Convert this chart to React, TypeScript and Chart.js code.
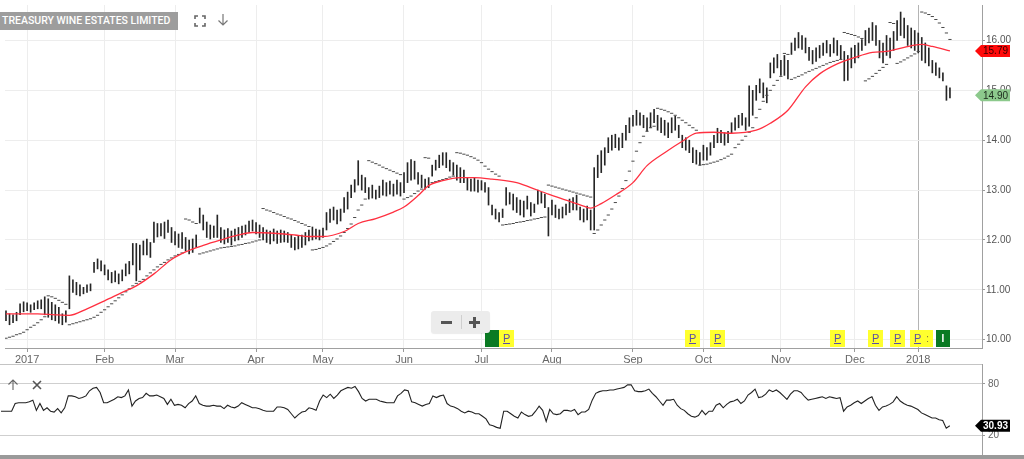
import React, { useEffect, useRef } from "react";
import { Chart, registerables } from "chart.js";

Chart.register(...registerables);

// ---- Data (trading-day index along x) ----
const highs = [
  10.58, 10.52, 10.50, 10.55, 10.72, 10.76, 10.74, 10.70, 10.74, 10.78,
  10.80, 10.86, 10.82, 10.75, 10.70, 10.65, 10.52, 10.58, 11.28, 11.20,
  11.15, 11.10, 11.05, 11.10, 11.12, 11.55, 11.62, 11.58, 11.50, 11.40,
  11.35, 11.38, 11.32, 11.40, 11.52, 11.57, 11.93, 11.93, 11.90, 11.98,
  12.02, 11.95, 12.36, 12.33, 12.33, 12.36, 12.40, 12.25, 12.17, 12.12,
  12.15, 12.05, 12.00, 12.02, 12.10, 12.64, 12.50, 12.36, 12.30, 12.28,
  12.50, 12.25, 12.20, 12.23, 12.18, 12.22, 12.25, 12.28, 12.30, 12.38,
  12.40, 12.35, 12.30, 12.25, 12.20, 12.18, 12.22, 12.18, 12.20, 12.18,
  12.15, 12.10, 12.05, 12.08, 12.10, 12.15, 12.20, 12.26, 12.22, 12.20,
  12.24, 12.55, 12.62, 12.66, 12.60, 12.62, 12.85, 12.96, 13.10, 13.21,
  13.59, 13.30, 13.25, 13.05, 13.10, 13.00, 13.08, 13.20, 13.15, 13.18,
  13.12, 13.20, 13.15, 13.35, 13.55, 13.61, 13.58, 13.35, 13.30, 13.22,
  13.25, 13.50, 13.60, 13.70, 13.75, 13.75, 13.60, 13.55, 13.50, 13.45,
  13.40, 13.25, 13.22, 13.25, 13.20, 13.19, 13.15, 13.05, 12.70, 12.62,
  12.55, 12.62, 13.05, 12.95, 12.92, 12.85, 12.80, 12.78, 12.88, 12.75,
  12.72, 13.00, 12.96, 12.92, 12.65, 12.80, 12.70, 12.62, 12.66, 12.72,
  12.82, 12.85, 12.90, 12.66, 12.62, 12.68, 12.60, 13.45, 13.70, 13.79,
  13.85, 14.05, 14.10, 14.12, 14.05, 14.14, 14.30, 14.45, 14.50, 14.60,
  14.55, 14.50, 14.45, 14.55, 14.62, 14.50, 14.45, 14.40, 14.35, 14.45,
  14.48, 14.30, 14.10, 14.05, 14.00, 13.85, 13.80, 13.75, 13.90, 13.85,
  13.95, 14.10, 14.24, 14.20, 14.15, 14.18, 14.35, 14.45, 14.50, 14.54,
  14.45, 15.09, 15.00, 15.10, 15.23, 15.15, 15.05, 15.55, 15.65, 15.72,
  15.60, 15.70, 15.60, 15.95, 16.05, 16.16, 16.10, 16.05, 15.86, 15.80,
  15.85, 15.90, 15.95, 16.00, 15.92, 16.05, 16.00, 15.90, 15.78, 15.70,
  15.85, 15.90, 15.95, 16.02, 16.20, 16.25, 16.36, 16.30, 16.00, 15.95,
  16.10, 16.05, 16.18, 16.40, 16.57, 16.45, 16.30, 16.25, 16.20, 16.15,
  16.06, 15.95, 15.85, 15.60, 15.55, 15.45, 15.35, 15.09, 15.05,
];

const lows = [
  10.38, 10.30, 10.34, 10.38, 10.50, 10.56, 10.58, 10.55, 10.60, 10.62,
  10.62, 10.50, 10.45, 10.40, 10.38, 10.33, 10.30, 10.35, 10.62, 10.95,
  10.90, 10.88, 10.92, 10.95, 10.98, 11.35, 11.42, 11.38, 11.30, 11.20,
  11.14, 11.16, 11.12, 11.18, 11.28, 11.32, 11.50, 11.18, 11.40, 11.70,
  11.70, 11.65, 11.95, 12.06, 12.08, 12.03, 12.15, 11.95, 11.90, 11.85,
  11.83, 11.78, 11.72, 11.75, 11.85, 12.34, 12.20, 12.05, 12.02, 12.05,
  12.05, 11.95, 11.92, 11.95, 11.90, 11.98, 12.00, 12.05, 12.10, 12.15,
  12.18, 12.12, 12.05, 12.00, 11.95, 11.92, 11.98, 11.93, 11.95, 11.96,
  11.95, 11.85, 11.80, 11.82, 11.85, 11.90, 11.98, 12.00, 12.02, 12.00,
  12.05, 12.20, 12.35, 12.40, 12.32, 12.38, 12.55, 12.62, 12.85, 12.96,
  13.10, 13.00, 12.95, 12.82, 12.84, 12.82, 12.85, 12.90, 12.88, 12.92,
  12.88, 12.92, 12.88, 12.95, 13.15, 13.20, 13.22, 13.12, 13.05, 13.02,
  13.05, 13.28, 13.40, 13.45, 13.50, 13.45, 13.38, 13.30, 13.20, 13.15,
  13.15, 13.00, 12.98, 12.98, 12.96, 13.00, 12.96, 12.70, 12.50, 12.42,
  12.36, 12.45, 12.70, 12.72, 12.60, 12.55, 12.50, 12.46, 12.62, 12.48,
  12.55, 12.72, 12.74, 12.65, 12.08, 12.50, 12.45, 12.42, 12.44, 12.50,
  12.55, 12.60, 12.60, 12.40, 12.36, 12.40, 12.20, 12.20, 13.25, 13.35,
  13.50, 13.75, 13.80, 13.85, 13.80, 13.85, 14.00, 14.15, 14.28, 14.30,
  14.30, 14.25, 14.18, 14.25, 14.35, 14.20, 14.15, 14.10, 14.05, 14.15,
  14.20, 14.05, 13.85, 13.80, 13.75, 13.55, 13.52, 13.50, 13.60, 13.60,
  13.70, 13.85, 13.95, 13.95, 13.90, 13.95, 14.15, 14.20, 14.25, 14.30,
  14.20, 14.28, 14.50, 14.80, 14.95, 14.85, 14.75, 15.25, 15.35, 15.45,
  15.30, 15.30, 15.23, 15.72, 15.80, 15.85, 15.82, 15.75, 15.60, 15.53,
  15.58, 15.65, 15.70, 15.75, 15.68, 15.75, 15.70, 15.62, 15.19, 15.20,
  15.45, 15.55, 15.65, 15.80, 15.90, 15.95, 16.00, 15.90, 15.65, 15.55,
  15.70, 15.65, 15.80, 16.00, 16.10, 16.05, 15.90, 15.85, 15.80, 15.75,
  15.60, 15.55, 15.49, 15.35, 15.30, 15.25, 15.19, 14.80, 14.85,
];

const sarValues = [
  10.03, 10.05, 10.07, 10.10, 10.12, 10.15, 10.20, 10.25, 10.29, 10.34,
  10.40, 10.46, 10.88, 10.86, 10.83, 10.79, 10.75, 10.71, 10.30, 10.32,
  10.34, 10.36, 10.38, 10.40, 10.42, 10.45, 10.49, 10.55, 10.60, 10.66,
  10.72, 10.78, 10.84, 10.90, 10.96, 11.02, 11.08, 11.13, 11.17, 11.21,
  11.28, 11.34, 11.40, 11.46, 11.51, 11.55, 11.60, 11.64, 11.68, 11.71,
  11.74, 12.42, 12.40, 12.36, 12.33, 11.72, 11.74, 11.76, 11.78, 11.80,
  11.82, 11.84, 11.85, 11.86, 11.87, 11.88, 11.90, 11.91, 11.93, 11.94,
  11.96, 11.98, 12.00, 12.63, 12.60, 12.58, 12.55, 12.52, 12.50, 12.47,
  12.44, 12.42, 12.39, 12.36, 12.33, 12.30, 12.27, 11.80, 11.81, 11.83,
  11.85, 11.88, 11.92, 11.97, 12.02, 12.08, 12.15, 12.23, 12.32, 12.45,
  12.60, 12.70, 12.82, 13.59, 13.56, 13.53, 13.50, 13.46, 13.43, 13.40,
  13.37, 13.34, 13.31, 12.82, 12.85, 12.88, 12.93, 12.98, 13.02, 13.65,
  13.64, 13.15, 13.17, 13.19, 13.21, 13.23, 13.26, 13.28, 13.75, 13.74,
  13.72, 13.70, 13.67, 13.64, 13.60, 13.55, 13.48, 13.42, 13.37, 13.32,
  13.28, 12.30, 12.31, 12.32, 12.33, 12.35, 12.36, 12.37, 12.39, 12.40,
  12.42, 12.43, 12.45, 12.46, 13.10, 13.08, 13.06, 13.04, 13.02, 13.00,
  12.98, 12.96, 12.94, 12.92, 12.90, 12.88, 12.86, 12.13, 12.20, 12.30,
  12.40, 12.50, 12.62, 12.75, 12.88, 13.03, 13.19, 13.38, 13.58, 13.78,
  13.95, 14.08, 14.18, 14.25, 14.28, 14.64, 14.62, 14.60, 14.57, 14.54,
  14.50, 14.45, 14.40, 14.35, 14.30, 14.25, 14.20, 13.50, 13.51, 13.52,
  13.54, 13.56, 13.58, 13.61, 13.64, 13.68, 13.72, 13.85, 13.92, 14.00,
  14.08, 14.16, 14.25, 14.45, 14.62, 14.78, 14.90, 15.00, 15.10, 15.20,
  15.28, 15.74, 15.72, 15.22, 15.25, 15.28, 15.31, 15.35, 15.38, 15.41,
  15.44, 15.47, 15.50, 15.53, 15.56, 15.58, 15.60, 15.62, 16.16, 16.14,
  16.12, 16.10, 16.07, 16.04, 15.19, 15.23, 15.28, 15.34, 15.40, 15.46,
  15.52, 16.36, 16.34, 15.54, 15.57, 15.61, 15.65, 15.69, 15.73, 15.78,
  16.57, 16.55, 16.52, 16.48, 16.42, 16.35, 16.26, 16.15, 16.02,
];

const maDays = [
  0, 9, 14, 18, 23, 28, 33, 37, 42, 47, 51, 56, 61, 66, 70, 77, 82, 86, 90,
  96, 100, 105, 110, 113, 117, 120, 124, 129, 133, 138, 145, 149, 154, 159,
  164, 166, 169, 173, 178, 182, 187, 192, 196, 201, 206, 213, 217, 222, 227,
  231, 236, 241, 246, 250, 255, 260, 263, 268,
];
const maValues = [
  10.52, 10.52, 10.50, 10.49, 10.62, 10.78, 10.95, 11.08, 11.32, 11.61, 11.76,
  11.89, 12.00, 12.10, 12.15, 12.13, 12.10, 12.07, 12.07, 12.17, 12.33, 12.43,
  12.56, 12.66, 12.89, 13.09, 13.19, 13.25, 13.25, 13.22, 13.15, 13.05, 12.92,
  12.80, 12.68, 12.64, 12.73, 12.90, 13.15, 13.49, 13.75, 13.98, 14.14, 14.16,
  14.14, 14.20, 14.34, 14.60, 15.07, 15.33, 15.53, 15.66, 15.76, 15.78, 15.86,
  15.92, 15.88, 15.79,
];

const rsiValues = [
  48, 48, 48, 48, 57, 58, 58, 58, 59, 61,
  49, 57, 49, 52, 48, 47, 51, 46, 52, 66,
  66, 65, 63, 64, 66, 72, 75, 76, 70, 58,
  58, 60, 62, 65, 64, 66, 73, 54, 60, 63,
  64, 69, 66, 66, 67, 65, 63, 56, 62, 55,
  56, 55, 52, 57, 60, 66, 57, 55, 54, 54,
  55, 54, 54, 51, 55, 53, 52, 54, 58, 56,
  54, 52, 52, 51, 49, 48, 48, 48, 53, 53,
  52, 50, 45, 40, 44, 47, 48, 52, 51, 49,
  60, 67, 64, 68, 63, 67, 72, 74, 76, 75,
  77, 71, 63, 60, 62, 62, 62, 60, 59, 58,
  58, 58, 66, 69, 73, 72, 59, 58, 56, 54,
  56, 57, 66, 64, 66, 67, 57, 54, 53, 51,
  48, 46, 48, 47, 45, 45, 42, 39, 32, 31,
  29, 28, 48, 48, 45, 42, 40, 47, 44, 42,
  43, 48, 54, 49, 36, 50, 45, 44, 45, 49,
  49, 48, 50, 44, 47, 47, 50, 61, 69, 71,
  72, 72, 73, 73, 74, 75, 76, 79, 79, 72,
  71, 71, 72, 74, 69, 65, 60, 55, 61, 61,
  62, 55, 51, 49, 45, 42, 41, 43, 49, 44,
  48, 48, 55, 57, 52, 56, 59, 60, 62, 57,
  60, 67, 70, 74, 64, 65, 68, 73, 71, 73,
  70, 66, 62, 68, 72, 72, 70, 65, 61, 62,
  63, 64, 65, 63, 65, 64, 63, 64, 48, 53,
  55, 58, 60, 57, 60, 63, 65, 55, 49, 53,
  54, 56, 59, 65, 60, 57, 55, 54, 52, 50,
  46, 44, 42, 40, 40, 38, 37, 28, 30.93,
];

const monthDays = [6, 28, 48, 71, 90, 113, 135, 155, 178, 198, 220, 241, 259];
const monthLabels = ["2017", "Feb", "Mar", "Apr", "May", "Jun", "Jul", "Aug", "Sep", "Oct", "Nov", "Dec", "2018"];
const yearLineDay = 259;
const priceTicks = [10, 11, 12, 13, 14, 15, 16];
const rsiTicks = [20, 80];
const eventDays = [138, 142, 195, 202, 236, 247, 253, 260, 266];
const eventKinds = ["green", "P", "P", "P", "P", "P", "P", "P:", "I"];
const lastClose = 14.9;
const lastMA = 15.79;
const lastRSI = 30.93;

const X_MIN = -0.28;
const X_MAX = 277.1;
const FONT = "'Liberation Sans', Arial, sans-serif";

function drawTag(ctx: CanvasRenderingContext2D, right: number, y: number, fill: string, color: string, text: string, bold: boolean) {
  ctx.save();
  ctx.beginPath();
  ctx.moveTo(right - 7, y);
  ctx.lineTo(right - 1, y - 6);
  ctx.lineTo(right + 28, y - 6);
  ctx.lineTo(right + 28, y + 6);
  ctx.lineTo(right - 1, y + 6);
  ctx.closePath();
  ctx.fillStyle = fill;
  ctx.fill();
  ctx.fillStyle = color;
  ctx.font = (bold ? "bold " : "") + "10px " + FONT;
  ctx.textAlign = "center";
  ctx.textBaseline = "middle";
  ctx.fillText(text, right + 13.5, y + 0.5);
  ctx.restore();
}

const overlayPlugin = {
  id: "priceOverlay",
  afterDraw(chart: any) {
    const { ctx, chartArea, scales } = chart;
    const xs = scales.x;
    const ys = scales.y;
    const bottom = chartArea.bottom - 1;
    const top = bottom - 17;
    eventDays.forEach((d, k) => {
      const kind = eventKinds[k];
      const cx = xs.getPixelForValue(d);
      const w = kind === "P:" ? 23 : kind === "green" || kind === "I" ? 14 : 15;
      const left = Math.round(cx - w / 2);
      ctx.save();
      if (kind === "green" || kind === "I") {
        ctx.fillStyle = "#0a7a23";
        ctx.fillRect(left, top, w, 17);
        if (kind === "I") {
          ctx.fillStyle = "#ffffff";
          ctx.font = "bold 10px " + FONT;
          ctx.textAlign = "center";
          ctx.textBaseline = "middle";
          ctx.fillText("I", left + w / 2, top + 9);
        }
      } else {
        ctx.fillStyle = "#ffff2e";
        ctx.fillRect(left, top, w, 17);
        ctx.fillStyle = "#5d4ea6";
        ctx.font = "11px " + FONT;
        ctx.textAlign = "left";
        ctx.textBaseline = "middle";
        const px = left + 4;
        ctx.fillText("P", px, top + 8.5);
        ctx.fillRect(px, top + 13, 7, 1);
        if (kind === "P:") {
          ctx.fillStyle = "#8a7a3a";
          ctx.fillText(":", px + 12, top + 9);
        }
      }
      ctx.restore();
    });
    drawTag(ctx, chartArea.right, ys.getPixelForValue(lastMA), "#ff0a0a", "#3a0000", lastMA.toFixed(2), false);
    drawTag(ctx, chartArea.right, ys.getPixelForValue(lastClose), "#8cc98c", "#1c2a1c", lastClose.toFixed(2), false);
  },
};

const rsiTagPlugin = {
  id: "rsiTag",
  afterDraw(chart: any) {
    const { ctx, chartArea, scales } = chart;
    drawTag(ctx, chartArea.right, scales.y.getPixelForValue(lastRSI), "#000000", "#ffffff", lastRSI.toFixed(2), true);
  },
};

const noPad = (s: any) => {
  s.paddingTop = 0;
  s.paddingBottom = 0;
  s.paddingLeft = 0;
  s.paddingRight = 0;
};

export default function App() {
  const mainRef = useRef<HTMLCanvasElement>(null);
  const rsiRef = useRef<HTMLCanvasElement>(null);

  useEffect(() => {
    document.body.style.margin = "0";
    Chart.defaults.font.family = FONT;
    const barData = highs.map((h, i) => ({ x: i, y: [lows[i], h] }));
    const sarData = sarValues.map((v, i) => ({ x: i, y: v }));
    const maData = maDays.map((d, i) => ({ x: d, y: maValues[i] }));
    const rsiData = rsiValues.map((v, i) => ({ x: i, y: v }));

    const main = new Chart(mainRef.current as HTMLCanvasElement, {
      type: "bar",
      data: {
        datasets: [
          {
            type: "bar",
            data: barData as any,
            backgroundColor: "#262626",
            borderWidth: 0,
            barThickness: 1,
            order: 3,
          } as any,
          {
            type: "line",
            data: sarData as any,
            showLine: false,
            pointStyle: "line",
            pointRadius: 1.6,
            pointBorderWidth: 1,
            pointBorderColor: "#4a4a4a",
            pointBackgroundColor: "#4a4a4a",
            order: 2,
          } as any,
          {
            type: "line",
            data: maData as any,
            borderColor: "#ff3040",
            borderWidth: 1.3,
            pointRadius: 0,
            cubicInterpolationMode: "monotone",
            order: 1,
          } as any,
        ],
      },
      options: {
        responsive: false,
        animation: false,
        events: [],
        layout: { padding: 0 },
        plugins: { legend: { display: false }, tooltip: { enabled: false } },
        scales: {
          x: {
            type: "linear",
            min: X_MIN,
            max: X_MAX,
            offset: false,
            afterBuildTicks: (s: any) => {
              s.ticks = monthDays.map((v) => ({ value: v }));
            },
            afterFit: (s: any) => {
              s.height = 16;
              noPad(s);
            },
            ticks: {
              autoSkip: false,
              maxRotation: 0,
              padding: 1,
              color: "#666666",
              font: { size: 11 },
              callback: (_v: any, idx: number) => monthLabels[idx],
            },
            grid: {
              offset: false,
              color: (c: any) => (c.tick && c.tick.value === yearLineDay ? "#b4b4b4" : "#ededed"),
              tickLength: 4,
              tickColor: "#999999",
            },
            border: { color: "#a0a0a0" },
          } as any,
          y: {
            type: "linear",
            position: "right",
            min: 9.834,
            max: 16.711,
            afterBuildTicks: (s: any) => {
              s.ticks = priceTicks.map((v) => ({ value: v }));
            },
            afterFit: (s: any) => {
              s.width = 42;
              noPad(s);
            },
            ticks: {
              padding: 1,
              color: "#555555",
              font: { size: 10 },
              callback: (v: any) => Number(v).toFixed(2),
            },
            grid: { color: "#ededed", tickLength: 3, tickColor: "#999999" },
            border: { color: "#a0a0a0" },
          } as any,
        },
      },
      plugins: [overlayPlugin],
    });

    const rsi = new Chart(rsiRef.current as HTMLCanvasElement, {
      type: "line",
      data: {
        datasets: [
          {
            data: rsiData as any,
            borderColor: "#222222",
            borderWidth: 1.1,
            pointRadius: 0,
            tension: 0,
          },
        ],
      },
      options: {
        responsive: false,
        animation: false,
        events: [],
        layout: { padding: 0 },
        plugins: { legend: { display: false }, tooltip: { enabled: false } },
        scales: {
          x: { type: "linear", min: X_MIN, max: X_MAX, display: false },
          y: {
            type: "linear",
            position: "right",
            min: -3.5,
            max: 103.5,
            afterBuildTicks: (s: any) => {
              s.ticks = rsiTicks.map((v) => ({ value: v }));
            },
            afterFit: (s: any) => {
              s.width = 42;
              noPad(s);
            },
            ticks: { padding: 3, color: "#666666", font: { size: 10 } },
            grid: { color: "#cfcfcf", tickLength: 3, tickColor: "#999999" },
            border: { color: "#a0a0a0" },
          } as any,
        },
      },
      plugins: [rsiTagPlugin],
    });

    return () => {
      main.destroy();
      rsi.destroy();
    };
  }, []);

  return (
    <div style={{ position: "absolute", left: 0, top: 0, width: 1024, height: 459, background: "#ffffff", overflow: "hidden" }}>
      <canvas ref={mainRef} width={1024} height={364} style={{ position: "absolute", left: 0, top: 0 }} />
      <div style={{ position: "absolute", left: 0, top: 364, width: 982, height: 1, background: "#c4c4c4" }} />
      <canvas ref={rsiRef} width={1024} height={91} style={{ position: "absolute", left: 0, top: 364 }} />
      <div style={{ position: "absolute", left: 0, top: 455, width: 1024, height: 4, background: "#9a9a9a" }} />

      <div
        style={{
          position: "absolute",
          left: 0,
          top: 12,
          height: 18,
          width: 178,
          background: "#9d9d9d",
          color: "#ffffff",
          font: "500 10.5px Roboto, 'Liberation Sans', sans-serif",
          lineHeight: "18px",
          paddingLeft: 2,
          boxSizing: "border-box",
          whiteSpace: "nowrap",
          overflow: "hidden",
        }}
      >
        TREASURY WINE ESTATES LIMITED
      </div>
      <svg style={{ position: "absolute", left: 194, top: 15 }} width={12} height={12}>
        <path d="M1 4 V1 H4 M8 1 H11 V4 M11 8 V11 H8 M4 11 H1 V8" stroke="#666" strokeWidth={1.6} fill="none" />
      </svg>
      <svg style={{ position: "absolute", left: 217, top: 13 }} width={12} height={14}>
        <path d="M6 1 V12 M1.5 7.5 L6 12 L10.5 7.5" stroke="#777" strokeWidth={1.2} fill="none" />
      </svg>

      <div
        style={{
          position: "absolute",
          left: 431,
          top: 311,
          width: 59,
          height: 22,
          background: "#ececec",
          borderRadius: 3,
          boxShadow: "0 1px 1px rgba(0,0,0,0.08)",
        }}
      >
        <div style={{ position: "absolute", left: 10, top: 10, width: 11, height: 2.5, background: "#555" }} />
        <div style={{ position: "absolute", left: 30, top: 4, width: 1, height: 14, background: "#cfcfcf" }} />
        <div style={{ position: "absolute", left: 38, top: 10, width: 11, height: 2.5, background: "#555" }} />
        <div style={{ position: "absolute", left: 42.25, top: 6, width: 2.5, height: 11, background: "#555" }} />
      </div>

      <svg style={{ position: "absolute", left: 7, top: 378 }} width={12} height={13}>
        <path d="M6 12 V2 M1.5 6.5 L6 2 L10.5 6.5" stroke="#666" strokeWidth={1.1} fill="none" />
      </svg>
      <svg style={{ position: "absolute", left: 32, top: 380 }} width={10} height={10}>
        <path d="M1 1 L9 9 M9 1 L1 9" stroke="#555" strokeWidth={1.6} fill="none" />
      </svg>
    </div>
  );
}
